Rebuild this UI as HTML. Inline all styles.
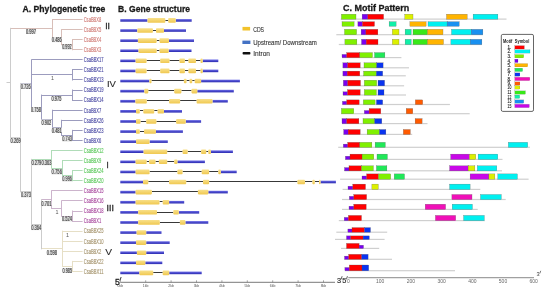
<!DOCTYPE html>
<html><head><meta charset="utf-8"><title>Phylogenetic tree, gene structure and motif pattern</title>
<style>html,body{margin:0;padding:0;background:#fff;} body{width:550px;height:293px;position:relative;overflow:hidden;}</style>
</head><body>
<svg width="550" height="293" viewBox="0 0 550 293" style="position:absolute;left:0;top:0">
<g><rect x="0" y="0" width="550" height="293" fill="#fff"/>
<g font-family="'Liberation Sans', Arial, sans-serif" font-weight="bold" fill="#1a1a1a" stroke="#1a1a1a" stroke-width="0.3">
<text x="22.6" y="11.8" font-size="8.9" textLength="82.8" lengthAdjust="spacingAndGlyphs">A. Phylogenetic tree</text>
<text x="118" y="12" font-size="9.8" textLength="72" lengthAdjust="spacingAndGlyphs">B. Gene structure</text>
<text x="343.1" y="10.6" font-size="9.2" textLength="66.2" lengthAdjust="spacingAndGlyphs">C. Motif Pattern</text>
</g>
<g stroke-width="1" shape-rendering="auto" stroke-linecap="square">
<line x1="72.50" y1="39.50" x2="82.10" y2="39.50" stroke="#d8beb8"/>
<line x1="72.50" y1="49.50" x2="82.10" y2="49.50" stroke="#d8beb8"/>
<line x1="72.50" y1="39.66" x2="72.50" y2="49.74" stroke="#d8beb8"/>
<line x1="62.00" y1="29.50" x2="82.10" y2="29.50" stroke="#d8beb8"/>
<line x1="62.00" y1="44.50" x2="71.50" y2="44.50" stroke="#d8beb8"/>
<line x1="61.50" y1="29.58" x2="61.50" y2="44.70" stroke="#d8beb8"/>
<line x1="52.50" y1="19.50" x2="82.10" y2="19.50" stroke="#d8beb8"/>
<line x1="52.50" y1="37.50" x2="61.00" y2="37.50" stroke="#d8beb8"/>
<line x1="52.50" y1="19.50" x2="52.50" y2="37.14" stroke="#d8beb8"/>
<line x1="72.50" y1="69.50" x2="82.10" y2="69.50" stroke="#9c9cbe"/>
<line x1="72.50" y1="79.50" x2="82.10" y2="79.50" stroke="#9c9cbe"/>
<line x1="72.50" y1="69.90" x2="72.50" y2="79.98" stroke="#9c9cbe"/>
<line x1="72.50" y1="90.50" x2="82.10" y2="90.50" stroke="#9c9cbe"/>
<line x1="72.50" y1="100.50" x2="82.10" y2="100.50" stroke="#9c9cbe"/>
<line x1="72.50" y1="90.06" x2="72.50" y2="100.14" stroke="#9c9cbe"/>
<line x1="72.50" y1="130.50" x2="82.10" y2="130.50" stroke="#9c9cbe"/>
<line x1="72.50" y1="140.50" x2="82.10" y2="140.50" stroke="#9c9cbe"/>
<line x1="72.50" y1="130.38" x2="72.50" y2="140.46" stroke="#9c9cbe"/>
<line x1="62.20" y1="120.50" x2="82.10" y2="120.50" stroke="#9c9cbe"/>
<line x1="62.20" y1="135.50" x2="71.50" y2="135.50" stroke="#9c9cbe"/>
<line x1="61.50" y1="120.30" x2="61.50" y2="135.42" stroke="#9c9cbe"/>
<line x1="52.50" y1="110.50" x2="82.10" y2="110.50" stroke="#9c9cbe"/>
<line x1="52.50" y1="127.50" x2="61.20" y2="127.50" stroke="#9c9cbe"/>
<line x1="52.50" y1="110.22" x2="52.50" y2="127.86" stroke="#9c9cbe"/>
<line x1="42.00" y1="95.50" x2="71.50" y2="95.50" stroke="#9c9cbe"/>
<line x1="42.00" y1="119.50" x2="51.50" y2="119.50" stroke="#9c9cbe"/>
<line x1="41.50" y1="95.10" x2="41.50" y2="119.04" stroke="#9c9cbe"/>
<line x1="32.00" y1="59.50" x2="82.10" y2="59.50" stroke="#9c9cbe"/>
<line x1="32.00" y1="74.50" x2="71.50" y2="74.50" stroke="#9c9cbe"/>
<line x1="32.00" y1="107.50" x2="41.00" y2="107.50" stroke="#9c9cbe"/>
<line x1="31.50" y1="59.82" x2="31.50" y2="107.07" stroke="#9c9cbe"/>
<line x1="72.50" y1="170.50" x2="82.10" y2="170.50" stroke="#b0dcb8"/>
<line x1="72.50" y1="180.50" x2="82.10" y2="180.50" stroke="#b0dcb8"/>
<line x1="72.50" y1="170.70" x2="72.50" y2="180.78" stroke="#b0dcb8"/>
<line x1="62.50" y1="160.50" x2="82.10" y2="160.50" stroke="#b0dcb8"/>
<line x1="62.50" y1="175.50" x2="71.50" y2="175.50" stroke="#b0dcb8"/>
<line x1="62.50" y1="160.62" x2="62.50" y2="175.74" stroke="#b0dcb8"/>
<line x1="52.10" y1="150.50" x2="82.10" y2="150.50" stroke="#b0dcb8"/>
<line x1="52.10" y1="168.50" x2="61.50" y2="168.50" stroke="#b0dcb8"/>
<line x1="51.50" y1="150.54" x2="51.50" y2="168.18" stroke="#b0dcb8"/>
<line x1="72.50" y1="211.50" x2="82.10" y2="211.50" stroke="#ccb4cc"/>
<line x1="72.50" y1="221.50" x2="82.10" y2="221.50" stroke="#ccb4cc"/>
<line x1="72.50" y1="211.02" x2="72.50" y2="221.10" stroke="#ccb4cc"/>
<line x1="62.00" y1="200.50" x2="82.10" y2="200.50" stroke="#ccb4cc"/>
<line x1="62.00" y1="216.50" x2="71.50" y2="216.50" stroke="#ccb4cc"/>
<line x1="61.50" y1="200.94" x2="61.50" y2="216.06" stroke="#ccb4cc"/>
<line x1="51.90" y1="190.50" x2="82.10" y2="190.50" stroke="#ccb4cc"/>
<line x1="51.90" y1="208.50" x2="61.00" y2="208.50" stroke="#ccb4cc"/>
<line x1="51.50" y1="190.86" x2="51.50" y2="208.50" stroke="#ccb4cc"/>
<line x1="72.50" y1="261.50" x2="82.10" y2="261.50" stroke="#e6dfc6"/>
<line x1="72.50" y1="271.50" x2="82.10" y2="271.50" stroke="#e6dfc6"/>
<line x1="72.50" y1="261.42" x2="72.50" y2="271.50" stroke="#e6dfc6"/>
<line x1="63.00" y1="231.50" x2="82.10" y2="231.50" stroke="#e6dfc6"/>
<line x1="63.00" y1="241.50" x2="82.10" y2="241.50" stroke="#e6dfc6"/>
<line x1="63.00" y1="251.50" x2="82.10" y2="251.50" stroke="#e6dfc6"/>
<line x1="63.00" y1="266.50" x2="71.50" y2="266.50" stroke="#e6dfc6"/>
<line x1="62.50" y1="231.18" x2="62.50" y2="266.46" stroke="#e6dfc6"/>
<line x1="41.80" y1="199.50" x2="50.90" y2="199.50" stroke="#ccb4cc"/>
<line x1="41.80" y1="248.50" x2="62.00" y2="248.50" stroke="#e6dfc6"/>
<line x1="41.50" y1="199.68" x2="41.50" y2="248.82" stroke="#cccccc"/>
<line x1="31.80" y1="159.50" x2="51.10" y2="159.50" stroke="#b0dcb8"/>
<line x1="31.80" y1="224.50" x2="40.80" y2="224.50" stroke="#cccccc"/>
<line x1="31.50" y1="159.36" x2="31.50" y2="224.25" stroke="#cccccc"/>
<line x1="20.70" y1="83.50" x2="31.00" y2="83.50" stroke="#9c9cbe"/>
<line x1="20.70" y1="191.50" x2="30.80" y2="191.50" stroke="#cccccc"/>
<line x1="20.50" y1="83.44" x2="20.50" y2="191.81" stroke="#cccccc"/>
<line x1="11.00" y1="28.50" x2="51.50" y2="28.50" stroke="#d8beb8"/>
<line x1="11.00" y1="137.50" x2="19.70" y2="137.50" stroke="#cccccc"/>
<line x1="10.50" y1="28.32" x2="10.50" y2="137.62" stroke="#cccccc"/>
<line x1="7.00" y1="82.50" x2="10.00" y2="82.50" stroke="#cccccc"/>
</g>
<g font-family="'Liberation Sans', Arial, sans-serif" font-size="7.3">
<text x="83.7" y="21.80" fill="#d07a74" stroke="#d07a74" stroke-width="0.22" stroke-opacity="0.6" textLength="17.6" lengthAdjust="spacingAndGlyphs">CsaBBX8</text>
<text x="83.7" y="31.88" fill="#d07a74" stroke="#d07a74" stroke-width="0.22" stroke-opacity="0.6" textLength="17.6" lengthAdjust="spacingAndGlyphs">CsaBBX5</text>
<text x="83.7" y="41.96" fill="#d07a74" stroke="#d07a74" stroke-width="0.22" stroke-opacity="0.6" textLength="17.6" lengthAdjust="spacingAndGlyphs">CsaBBX4</text>
<text x="83.7" y="52.04" fill="#d07a74" stroke="#d07a74" stroke-width="0.22" stroke-opacity="0.6" textLength="17.6" lengthAdjust="spacingAndGlyphs">CsaBBX3</text>
<text x="83.7" y="62.12" fill="#4a4aa4" stroke="#4a4aa4" stroke-width="0.22" stroke-opacity="0.6" textLength="19.9" lengthAdjust="spacingAndGlyphs">CsaBBX17</text>
<text x="83.7" y="72.20" fill="#4a4aa4" stroke="#4a4aa4" stroke-width="0.22" stroke-opacity="0.6" textLength="19.9" lengthAdjust="spacingAndGlyphs">CsaBBX21</text>
<text x="83.7" y="82.28" fill="#4a4aa4" stroke="#4a4aa4" stroke-width="0.22" stroke-opacity="0.6" textLength="19.9" lengthAdjust="spacingAndGlyphs">CsaBBX13</text>
<text x="83.7" y="92.36" fill="#4a4aa4" stroke="#4a4aa4" stroke-width="0.22" stroke-opacity="0.6" textLength="19.9" lengthAdjust="spacingAndGlyphs">CsaBBX19</text>
<text x="83.7" y="102.44" fill="#4a4aa4" stroke="#4a4aa4" stroke-width="0.22" stroke-opacity="0.6" textLength="19.9" lengthAdjust="spacingAndGlyphs">CsaBBX14</text>
<text x="83.7" y="112.52" fill="#4a4aa4" stroke="#4a4aa4" stroke-width="0.22" stroke-opacity="0.6" textLength="17.6" lengthAdjust="spacingAndGlyphs">CsaBBX7</text>
<text x="83.7" y="122.60" fill="#4a4aa4" stroke="#4a4aa4" stroke-width="0.22" stroke-opacity="0.6" textLength="19.9" lengthAdjust="spacingAndGlyphs">CsaBBX26</text>
<text x="83.7" y="132.68" fill="#4a4aa4" stroke="#4a4aa4" stroke-width="0.22" stroke-opacity="0.6" textLength="19.9" lengthAdjust="spacingAndGlyphs">CsaBBX23</text>
<text x="83.7" y="142.76" fill="#4a4aa4" stroke="#4a4aa4" stroke-width="0.22" stroke-opacity="0.6" textLength="17.6" lengthAdjust="spacingAndGlyphs">CsaBBX6</text>
<text x="83.7" y="152.84" fill="#58c858" stroke="#58c858" stroke-width="0.22" stroke-opacity="0.6" textLength="19.9" lengthAdjust="spacingAndGlyphs">CsaBBX12</text>
<text x="83.7" y="162.92" fill="#58c858" stroke="#58c858" stroke-width="0.22" stroke-opacity="0.6" textLength="17.6" lengthAdjust="spacingAndGlyphs">CsaBBX9</text>
<text x="83.7" y="173.00" fill="#58c858" stroke="#58c858" stroke-width="0.22" stroke-opacity="0.6" textLength="19.9" lengthAdjust="spacingAndGlyphs">CsaBBX24</text>
<text x="83.7" y="183.08" fill="#58c858" stroke="#58c858" stroke-width="0.22" stroke-opacity="0.6" textLength="19.9" lengthAdjust="spacingAndGlyphs">CsaBBX20</text>
<text x="83.7" y="193.16" fill="#a8489e" stroke="#a8489e" stroke-width="0.22" stroke-opacity="0.6" textLength="19.9" lengthAdjust="spacingAndGlyphs">CsaBBX15</text>
<text x="83.7" y="203.24" fill="#a8489e" stroke="#a8489e" stroke-width="0.22" stroke-opacity="0.6" textLength="19.9" lengthAdjust="spacingAndGlyphs">CsaBBX16</text>
<text x="83.7" y="213.32" fill="#a8489e" stroke="#a8489e" stroke-width="0.22" stroke-opacity="0.6" textLength="19.9" lengthAdjust="spacingAndGlyphs">CsaBBX18</text>
<text x="83.7" y="223.40" fill="#a8489e" stroke="#a8489e" stroke-width="0.22" stroke-opacity="0.6" textLength="17.6" lengthAdjust="spacingAndGlyphs">CsaBBX1</text>
<text x="83.7" y="233.48" fill="#a4926a" stroke="#a4926a" stroke-width="0.22" stroke-opacity="0.6" textLength="19.9" lengthAdjust="spacingAndGlyphs">CsaBBX25</text>
<text x="83.7" y="243.56" fill="#a4926a" stroke="#a4926a" stroke-width="0.22" stroke-opacity="0.6" textLength="19.9" lengthAdjust="spacingAndGlyphs">CsaBBX10</text>
<text x="83.7" y="253.64" fill="#a4926a" stroke="#a4926a" stroke-width="0.22" stroke-opacity="0.6" textLength="17.6" lengthAdjust="spacingAndGlyphs">CsaBBX2</text>
<text x="83.7" y="263.72" fill="#a4926a" stroke="#a4926a" stroke-width="0.22" stroke-opacity="0.6" textLength="19.9" lengthAdjust="spacingAndGlyphs">CsaBBX22</text>
<text x="83.7" y="273.80" fill="#a4926a" stroke="#a4926a" stroke-width="0.22" stroke-opacity="0.6" textLength="19.9" lengthAdjust="spacingAndGlyphs">CsaBBX11</text>
</g>
<g fill="#e2e2e2">
<rect x="26.00" y="29.20" width="10.10" height="4.80"/>
<rect x="51.80" y="37.00" width="10.00" height="5.20"/>
<rect x="62.30" y="44.30" width="9.20" height="5.40"/>
<rect x="20.70" y="83.40" width="10.00" height="5.50"/>
<rect x="51.60" y="95.90" width="9.80" height="5.00"/>
<rect x="31.10" y="107.00" width="9.80" height="5.10"/>
<rect x="41.50" y="119.50" width="9.80" height="5.30"/>
<rect x="51.80" y="127.70" width="10.00" height="5.20"/>
<rect x="62.30" y="136.60" width="9.70" height="5.00"/>
<rect x="10.60" y="137.60" width="10.20" height="5.50"/>
<rect x="31.40" y="160.00" width="9.90" height="5.30"/>
<rect x="41.50" y="160.00" width="10.10" height="5.30"/>
<rect x="51.60" y="169.30" width="10.40" height="5.20"/>
<rect x="62.30" y="176.60" width="9.70" height="5.00"/>
<rect x="21.00" y="192.50" width="10.00" height="5.00"/>
<rect x="41.30" y="201.10" width="10.10" height="5.00"/>
<rect x="62.00" y="216.70" width="10.00" height="4.80"/>
<rect x="31.20" y="225.00" width="10.10" height="5.10"/>
<rect x="46.80" y="250.30" width="10.10" height="4.80"/>
<rect x="62.50" y="268.00" width="9.50" height="4.90"/>
</g>
<g font-family="'Liberation Sans', Arial, sans-serif" font-size="6.4" fill="#333" stroke="#555" stroke-width="0.15">
<text x="26.00" y="33.70" textLength="10.10" lengthAdjust="spacingAndGlyphs">0.997</text>
<text x="51.80" y="41.90" textLength="10.00" lengthAdjust="spacingAndGlyphs">0.486</text>
<text x="62.30" y="49.40" textLength="9.20" lengthAdjust="spacingAndGlyphs">0.992</text>
<text x="50.90" y="79.90" font-size="5.4" fill="#555" stroke="none">1</text>
<text x="20.70" y="88.60" textLength="10.00" lengthAdjust="spacingAndGlyphs">0.726</text>
<text x="51.60" y="100.60" textLength="9.80" lengthAdjust="spacingAndGlyphs">0.975</text>
<text x="31.10" y="111.80" textLength="9.80" lengthAdjust="spacingAndGlyphs">0.758</text>
<text x="41.50" y="124.50" textLength="9.80" lengthAdjust="spacingAndGlyphs">0.902</text>
<text x="51.80" y="132.60" textLength="10.00" lengthAdjust="spacingAndGlyphs">0.481</text>
<text x="62.30" y="141.30" textLength="9.70" lengthAdjust="spacingAndGlyphs">0.743</text>
<text x="10.60" y="142.80" textLength="10.20" lengthAdjust="spacingAndGlyphs">0.269</text>
<text x="31.40" y="165.00" textLength="9.90" lengthAdjust="spacingAndGlyphs">0.279</text>
<text x="41.50" y="165.00" textLength="10.10" lengthAdjust="spacingAndGlyphs">0.363</text>
<text x="51.60" y="174.20" textLength="10.40" lengthAdjust="spacingAndGlyphs">0.756</text>
<text x="62.30" y="181.30" textLength="9.70" lengthAdjust="spacingAndGlyphs">0.996</text>
<text x="21.00" y="197.20" textLength="10.00" lengthAdjust="spacingAndGlyphs">0.373</text>
<text x="41.30" y="205.80" textLength="10.10" lengthAdjust="spacingAndGlyphs">0.701</text>
<text x="55.50" y="214.00" font-size="5.4" fill="#555" stroke="none">1</text>
<text x="62.00" y="221.20" textLength="10.00" lengthAdjust="spacingAndGlyphs">0.524</text>
<text x="31.20" y="229.80" textLength="10.10" lengthAdjust="spacingAndGlyphs">0.364</text>
<text x="65.90" y="236.80" font-size="5.4" fill="#555" stroke="none">1</text>
<text x="46.80" y="254.80" textLength="10.10" lengthAdjust="spacingAndGlyphs">0.598</text>
<text x="62.50" y="272.60" textLength="9.50" lengthAdjust="spacingAndGlyphs">0.985</text>
</g>
<g font-family="'Liberation Sans', Arial, sans-serif" font-size="9.4" fill="#2a2a2a" stroke="#2a2a2a" stroke-width="0.35">
<text x="105.2" y="28.9" textLength="4.8" lengthAdjust="spacingAndGlyphs">II</text>
<text x="106.9" y="86.8" textLength="9" lengthAdjust="spacingAndGlyphs" stroke-width="0.12">IV</text>
<text x="106.6" y="168" textLength="2.2" lengthAdjust="spacingAndGlyphs">I</text>
<text x="106.6" y="211.4" textLength="7.3" lengthAdjust="spacingAndGlyphs">III</text>
<text x="105.2" y="255" textLength="6.8" lengthAdjust="spacingAndGlyphs" stroke-width="0.1">V</text>
</g>
<defs><linearGradient id="gb" x1="0" y1="0" x2="0" y2="1"><stop offset="0" stop-color="#6a6ae6"/><stop offset="1" stop-color="#2a2ab0"/></linearGradient><linearGradient id="gy" x1="0" y1="0" x2="0" y2="1"><stop offset="0" stop-color="#f8e08a"/><stop offset="1" stop-color="#f0c850"/></linearGradient></defs>
<g>
<rect x="165.30" y="20" width="2.90" height="1" fill="#383838"/>
<rect x="152.90" y="30" width="3.10" height="1" fill="#383838"/>
<rect x="156.70" y="40" width="2.80" height="1" fill="#383838"/>
<rect x="156.70" y="50" width="2.80" height="1" fill="#383838"/>
<rect x="146.60" y="60" width="13.60" height="1" fill="#383838"/>
<rect x="169.50" y="60" width="10.00" height="1" fill="#383838"/>
<rect x="184.90" y="60" width="3.50" height="1" fill="#383838"/>
<rect x="196.00" y="60" width="4.50" height="1" fill="#383838"/>
<rect x="146.60" y="70" width="13.60" height="1" fill="#383838"/>
<rect x="169.50" y="70" width="10.00" height="1" fill="#383838"/>
<rect x="184.90" y="70" width="3.50" height="1" fill="#383838"/>
<rect x="196.00" y="70" width="4.50" height="1" fill="#383838"/>
<rect x="151.50" y="80" width="32.40" height="1" fill="#383838"/>
<rect x="186.50" y="80" width="3.10" height="1" fill="#383838"/>
<rect x="192.20" y="80" width="2.50" height="1" fill="#383838"/>
<rect x="148.30" y="90" width="25.90" height="1" fill="#383838"/>
<rect x="181.40" y="90" width="10.10" height="1" fill="#383838"/>
<rect x="146.80" y="100" width="22.30" height="1" fill="#383838"/>
<rect x="180.10" y="100" width="16.50" height="1" fill="#383838"/>
<rect x="139.80" y="110" width="3.50" height="1" fill="#383838"/>
<rect x="154.20" y="110" width="3.40" height="1" fill="#383838"/>
<rect x="140.50" y="121" width="5.70" height="1" fill="#383838"/>
<rect x="156.40" y="121" width="19.70" height="1" fill="#383838"/>
<rect x="139.80" y="131" width="4.20" height="1" fill="#383838"/>
<rect x="167.20" y="151" width="15.40" height="1" fill="#383838"/>
<rect x="187.70" y="151" width="13.40" height="1" fill="#383838"/>
<rect x="206.20" y="151" width="2.10" height="1" fill="#383838"/>
<rect x="146.60" y="161" width="2.50" height="1" fill="#383838"/>
<rect x="155.50" y="161" width="3.40" height="1" fill="#383838"/>
<rect x="167.20" y="161" width="7.00" height="1" fill="#383838"/>
<rect x="149.60" y="171" width="27.80" height="1" fill="#383838"/>
<rect x="182.60" y="171" width="19.10" height="1" fill="#383838"/>
<rect x="209.10" y="171" width="9.20" height="1" fill="#383838"/>
<rect x="148.30" y="181" width="20.80" height="1" fill="#383838"/>
<rect x="186.20" y="181" width="16.80" height="1" fill="#383838"/>
<rect x="209.10" y="181" width="88.30" height="1" fill="#383838"/>
<rect x="305.00" y="181" width="7.40" height="1" fill="#383838"/>
<rect x="314.80" y="181" width="4.20" height="1" fill="#383838"/>
<rect x="151.90" y="191" width="46.00" height="1" fill="#383838"/>
<rect x="159.50" y="201" width="3.20" height="1" fill="#383838"/>
<rect x="157.00" y="212" width="16.30" height="1" fill="#383838"/>
<rect x="159.80" y="222" width="20.10" height="1" fill="#383838"/>
<rect x="153.20" y="272" width="9.50" height="1" fill="#383838"/>
<rect x="120.30" y="19.10" width="27.20" height="2.6" fill="url(#gb)"/>
<rect x="175.80" y="19.10" width="15.90" height="2.6" fill="url(#gb)"/>
<rect x="120.30" y="29.20" width="17.00" height="2.6" fill="url(#gb)"/>
<rect x="164.00" y="29.20" width="22.00" height="2.6" fill="url(#gb)"/>
<rect x="120.30" y="39.30" width="17.60" height="2.6" fill="url(#gb)"/>
<rect x="169.00" y="39.30" width="25.00" height="2.6" fill="url(#gb)"/>
<rect x="120.30" y="49.40" width="18.20" height="2.6" fill="url(#gb)"/>
<rect x="168.70" y="49.40" width="22.80" height="2.6" fill="url(#gb)"/>
<rect x="120.30" y="59.50" width="15.30" height="2.6" fill="url(#gb)"/>
<rect x="202.70" y="59.50" width="15.60" height="2.6" fill="url(#gb)"/>
<rect x="120.30" y="69.60" width="15.30" height="2.6" fill="url(#gb)"/>
<rect x="202.70" y="69.60" width="15.60" height="2.6" fill="url(#gb)"/>
<rect x="120.30" y="79.70" width="29.10" height="2.6" fill="url(#gb)"/>
<rect x="201.10" y="79.70" width="38.80" height="2.6" fill="url(#gb)"/>
<rect x="120.30" y="89.80" width="24.00" height="2.6" fill="url(#gb)"/>
<rect x="197.30" y="89.80" width="36.50" height="2.6" fill="url(#gb)"/>
<rect x="120.30" y="99.90" width="15.10" height="2.6" fill="url(#gb)"/>
<rect x="212.50" y="99.90" width="15.30" height="2.6" fill="url(#gb)"/>
<rect x="120.30" y="110.00" width="15.70" height="2.6" fill="url(#gb)"/>
<rect x="164.00" y="110.00" width="18.00" height="2.6" fill="url(#gb)"/>
<rect x="120.30" y="120.10" width="15.70" height="2.6" fill="url(#gb)"/>
<rect x="185.80" y="120.10" width="15.30" height="2.6" fill="url(#gb)"/>
<rect x="120.30" y="130.20" width="15.70" height="2.6" fill="url(#gb)"/>
<rect x="156.00" y="130.20" width="26.90" height="2.6" fill="url(#gb)"/>
<rect x="120.30" y="140.30" width="15.70" height="2.6" fill="url(#gb)"/>
<rect x="149.60" y="140.30" width="18.20" height="2.6" fill="url(#gb)"/>
<rect x="120.30" y="150.40" width="23.30" height="2.6" fill="url(#gb)"/>
<rect x="210.90" y="150.40" width="22.00" height="2.6" fill="url(#gb)"/>
<rect x="120.30" y="160.50" width="15.30" height="2.6" fill="url(#gb)"/>
<rect x="177.40" y="160.50" width="27.50" height="2.6" fill="url(#gb)"/>
<rect x="120.30" y="170.60" width="15.30" height="2.6" fill="url(#gb)"/>
<rect x="220.80" y="170.60" width="15.90" height="2.6" fill="url(#gb)"/>
<rect x="120.30" y="180.70" width="22.70" height="2.6" fill="url(#gb)"/>
<rect x="320.50" y="180.70" width="15.40" height="2.6" fill="url(#gb)"/>
<rect x="120.30" y="190.80" width="15.30" height="2.6" fill="url(#gb)"/>
<rect x="208.30" y="190.80" width="19.50" height="2.6" fill="url(#gb)"/>
<rect x="120.30" y="200.90" width="15.30" height="2.6" fill="url(#gb)"/>
<rect x="169.10" y="200.90" width="15.10" height="2.6" fill="url(#gb)"/>
<rect x="120.30" y="211.00" width="17.90" height="2.6" fill="url(#gb)"/>
<rect x="178.80" y="211.00" width="20.40" height="2.6" fill="url(#gb)"/>
<rect x="120.30" y="221.10" width="17.90" height="2.6" fill="url(#gb)"/>
<rect x="185.40" y="221.10" width="22.90" height="2.6" fill="url(#gb)"/>
<rect x="120.30" y="231.20" width="16.30" height="2.6" fill="url(#gb)"/>
<rect x="146.20" y="231.20" width="15.30" height="2.6" fill="url(#gb)"/>
<rect x="120.30" y="241.30" width="15.70" height="2.6" fill="url(#gb)"/>
<rect x="146.20" y="241.30" width="23.50" height="2.6" fill="url(#gb)"/>
<rect x="120.30" y="251.40" width="16.60" height="2.6" fill="url(#gb)"/>
<rect x="146.20" y="251.40" width="17.80" height="2.6" fill="url(#gb)"/>
<rect x="120.30" y="261.50" width="15.70" height="2.6" fill="url(#gb)"/>
<rect x="145.30" y="261.50" width="17.00" height="2.6" fill="url(#gb)"/>
<rect x="120.30" y="271.60" width="19.10" height="2.6" fill="url(#gb)"/>
<rect x="169.20" y="271.60" width="32.50" height="2.6" fill="url(#gb)"/>
<rect x="147.50" y="18.10" width="17.80" height="4.6" rx="0.8" fill="url(#gy)"/>
<rect x="168.20" y="18.10" width="7.60" height="4.6" rx="0.8" fill="url(#gy)"/>
<rect x="137.30" y="28.20" width="15.60" height="4.6" rx="0.8" fill="url(#gy)"/>
<rect x="156.00" y="28.20" width="8.00" height="4.6" rx="0.8" fill="url(#gy)"/>
<rect x="137.90" y="38.30" width="18.80" height="4.6" rx="0.8" fill="url(#gy)"/>
<rect x="159.50" y="38.30" width="9.50" height="4.6" rx="0.8" fill="url(#gy)"/>
<rect x="138.50" y="48.40" width="18.20" height="4.6" rx="0.8" fill="url(#gy)"/>
<rect x="159.50" y="48.40" width="9.20" height="4.6" rx="0.8" fill="url(#gy)"/>
<rect x="135.60" y="58.50" width="11.00" height="4.6" rx="0.8" fill="url(#gy)"/>
<rect x="160.20" y="58.50" width="9.30" height="4.6" rx="0.8" fill="url(#gy)"/>
<rect x="179.50" y="58.50" width="5.40" height="4.6" rx="0.8" fill="url(#gy)"/>
<rect x="188.40" y="58.50" width="7.60" height="4.6" rx="0.8" fill="url(#gy)"/>
<rect x="200.50" y="58.50" width="2.20" height="4.6" rx="0.8" fill="url(#gy)"/>
<rect x="135.60" y="68.60" width="11.00" height="4.6" rx="0.8" fill="url(#gy)"/>
<rect x="160.20" y="68.60" width="9.30" height="4.6" rx="0.8" fill="url(#gy)"/>
<rect x="179.50" y="68.60" width="5.40" height="4.6" rx="0.8" fill="url(#gy)"/>
<rect x="188.40" y="68.60" width="7.60" height="4.6" rx="0.8" fill="url(#gy)"/>
<rect x="200.50" y="68.60" width="2.20" height="4.6" rx="0.8" fill="url(#gy)"/>
<rect x="149.40" y="78.70" width="2.10" height="4.6" rx="0.8" fill="url(#gy)"/>
<rect x="183.90" y="78.70" width="2.60" height="4.6" rx="0.8" fill="url(#gy)"/>
<rect x="189.60" y="78.70" width="2.60" height="4.6" rx="0.8" fill="url(#gy)"/>
<rect x="194.70" y="78.70" width="6.40" height="4.6" rx="0.8" fill="url(#gy)"/>
<rect x="144.30" y="88.80" width="4.00" height="4.6" rx="0.8" fill="url(#gy)"/>
<rect x="174.20" y="88.80" width="7.20" height="4.6" rx="0.8" fill="url(#gy)"/>
<rect x="191.50" y="88.80" width="5.80" height="4.6" rx="0.8" fill="url(#gy)"/>
<rect x="135.40" y="98.90" width="11.40" height="4.6" rx="0.8" fill="url(#gy)"/>
<rect x="169.10" y="98.90" width="11.00" height="4.6" rx="0.8" fill="url(#gy)"/>
<rect x="196.60" y="98.90" width="15.90" height="4.6" rx="0.8" fill="url(#gy)"/>
<rect x="136.00" y="109.00" width="3.80" height="4.6" rx="0.8" fill="url(#gy)"/>
<rect x="143.30" y="109.00" width="10.90" height="4.6" rx="0.8" fill="url(#gy)"/>
<rect x="157.60" y="109.00" width="6.40" height="4.6" rx="0.8" fill="url(#gy)"/>
<rect x="136.00" y="119.10" width="4.50" height="4.6" rx="0.8" fill="url(#gy)"/>
<rect x="146.20" y="119.10" width="10.20" height="4.6" rx="0.8" fill="url(#gy)"/>
<rect x="176.10" y="119.10" width="9.70" height="4.6" rx="0.8" fill="url(#gy)"/>
<rect x="136.00" y="129.20" width="3.80" height="4.6" rx="0.8" fill="url(#gy)"/>
<rect x="144.00" y="129.20" width="12.00" height="4.6" rx="0.8" fill="url(#gy)"/>
<rect x="136.00" y="139.30" width="13.60" height="4.6" rx="0.8" fill="url(#gy)"/>
<rect x="143.60" y="149.40" width="23.60" height="4.6" rx="0.8" fill="url(#gy)"/>
<rect x="182.60" y="149.40" width="5.10" height="4.6" rx="0.8" fill="url(#gy)"/>
<rect x="201.10" y="149.40" width="5.10" height="4.6" rx="0.8" fill="url(#gy)"/>
<rect x="208.30" y="149.40" width="2.60" height="4.6" rx="0.8" fill="url(#gy)"/>
<rect x="135.60" y="159.50" width="11.00" height="4.6" rx="0.8" fill="url(#gy)"/>
<rect x="149.10" y="159.50" width="6.40" height="4.6" rx="0.8" fill="url(#gy)"/>
<rect x="158.90" y="159.50" width="8.30" height="4.6" rx="0.8" fill="url(#gy)"/>
<rect x="174.20" y="159.50" width="3.20" height="4.6" rx="0.8" fill="url(#gy)"/>
<rect x="135.60" y="169.60" width="14.00" height="4.6" rx="0.8" fill="url(#gy)"/>
<rect x="177.40" y="169.60" width="5.20" height="4.6" rx="0.8" fill="url(#gy)"/>
<rect x="201.70" y="169.60" width="7.40" height="4.6" rx="0.8" fill="url(#gy)"/>
<rect x="218.30" y="169.60" width="2.50" height="4.6" rx="0.8" fill="url(#gy)"/>
<rect x="143.00" y="179.70" width="5.30" height="4.6" rx="0.8" fill="url(#gy)"/>
<rect x="169.10" y="179.70" width="17.10" height="4.6" rx="0.8" fill="url(#gy)"/>
<rect x="203.00" y="179.70" width="6.10" height="4.6" rx="0.8" fill="url(#gy)"/>
<rect x="297.40" y="179.70" width="7.60" height="4.6" rx="0.8" fill="url(#gy)"/>
<rect x="312.40" y="179.70" width="2.40" height="4.6" rx="0.8" fill="url(#gy)"/>
<rect x="319.00" y="179.70" width="1.50" height="4.6" rx="0.8" fill="url(#gy)"/>
<rect x="135.60" y="189.80" width="16.30" height="4.6" rx="0.8" fill="url(#gy)"/>
<rect x="197.90" y="189.80" width="10.40" height="4.6" rx="0.8" fill="url(#gy)"/>
<rect x="135.60" y="199.90" width="23.90" height="4.6" rx="0.8" fill="url(#gy)"/>
<rect x="162.70" y="199.90" width="6.40" height="4.6" rx="0.8" fill="url(#gy)"/>
<rect x="138.20" y="210.00" width="18.80" height="4.6" rx="0.8" fill="url(#gy)"/>
<rect x="173.30" y="210.00" width="5.50" height="4.6" rx="0.8" fill="url(#gy)"/>
<rect x="138.20" y="220.10" width="21.60" height="4.6" rx="0.8" fill="url(#gy)"/>
<rect x="179.90" y="220.10" width="5.50" height="4.6" rx="0.8" fill="url(#gy)"/>
<rect x="136.60" y="230.20" width="9.60" height="4.6" rx="0.8" fill="url(#gy)"/>
<rect x="136.00" y="240.30" width="10.20" height="4.6" rx="0.8" fill="url(#gy)"/>
<rect x="136.90" y="250.40" width="9.30" height="4.6" rx="0.8" fill="url(#gy)"/>
<rect x="136.00" y="260.50" width="9.30" height="4.6" rx="0.8" fill="url(#gy)"/>
<rect x="139.40" y="270.60" width="13.80" height="4.6" rx="0.8" fill="url(#gy)"/>
<rect x="162.70" y="270.60" width="6.50" height="4.6" rx="0.8" fill="url(#gy)"/>
</g>
<rect x="242.5" y="26.9" width="7.6" height="3.6" fill="#f2c22a"/>
<rect x="242.4" y="40.6" width="8" height="3.4" fill="#4472c4"/>
<rect x="242.6" y="51.9" width="7.8" height="2.7" rx="0.8" fill="#111"/>
<g font-family="'Liberation Sans', Arial, sans-serif" font-size="7.9" fill="#333" stroke="#333" stroke-width="0.12">
<text x="253.2" y="31.9" textLength="10.8" lengthAdjust="spacingAndGlyphs">CDS</text>
<text x="253.2" y="44.8" textLength="63.6" lengthAdjust="spacingAndGlyphs">Upstream/ Downstream</text>
<text x="253.2" y="55.5" textLength="16.8" lengthAdjust="spacingAndGlyphs">Intron</text>
</g>
<line x1="120.3" y1="282.3" x2="335" y2="282.3" stroke="#6a6a6a" stroke-width="0.9"/>
<g font-family="'Liberation Sans', Arial, sans-serif" font-size="3.5" fill="#555" text-anchor="middle">
<line x1="120.30" y1="280.3" x2="120.30" y2="282.3" stroke="#6a6a6a" stroke-width="0.6"/>
<text x="120.30" y="287.2">0kb</text>
<line x1="145.70" y1="280.3" x2="145.70" y2="282.3" stroke="#6a6a6a" stroke-width="0.6"/>
<text x="145.70" y="287.2">1kb</text>
<line x1="171.10" y1="280.3" x2="171.10" y2="282.3" stroke="#6a6a6a" stroke-width="0.6"/>
<text x="171.10" y="287.2">2kb</text>
<line x1="196.50" y1="280.3" x2="196.50" y2="282.3" stroke="#6a6a6a" stroke-width="0.6"/>
<text x="196.50" y="287.2">3kb</text>
<line x1="221.90" y1="280.3" x2="221.90" y2="282.3" stroke="#6a6a6a" stroke-width="0.6"/>
<text x="221.90" y="287.2">4kb</text>
<line x1="247.30" y1="280.3" x2="247.30" y2="282.3" stroke="#6a6a6a" stroke-width="0.6"/>
<text x="247.30" y="287.2">5kb</text>
<line x1="272.70" y1="280.3" x2="272.70" y2="282.3" stroke="#6a6a6a" stroke-width="0.6"/>
<text x="272.70" y="287.2">6kb</text>
<line x1="298.10" y1="280.3" x2="298.10" y2="282.3" stroke="#6a6a6a" stroke-width="0.6"/>
<text x="298.10" y="287.2">7kb</text>
<line x1="323.50" y1="280.3" x2="323.50" y2="282.3" stroke="#6a6a6a" stroke-width="0.6"/>
<text x="323.50" y="287.2">8kb</text>
</g>
<text x="114.9" y="284.7" font-family="'Liberation Sans', Arial, sans-serif" font-size="8.6" fill="#222" stroke="#222" stroke-width="0.3">5</text><line x1="121" y1="277.4" x2="120" y2="280.4" stroke="#222" stroke-width="0.9" stroke-linecap="round"/>
<text x="336.9" y="282.7" font-family="'Liberation Sans', Arial, sans-serif" font-size="7.4" fill="#333" stroke="#333" stroke-width="0.2">3</text><line x1="342" y1="276.6" x2="341.2" y2="279" stroke="#333" stroke-width="0.8" stroke-linecap="round"/>
<text x="342.3" y="282.7" font-family="'Liberation Sans', Arial, sans-serif" font-size="7.4" fill="#333" stroke="#333" stroke-width="0.2">5</text><line x1="347.3" y1="276.6" x2="346.5" y2="279" stroke="#333" stroke-width="0.8" stroke-linecap="round"/>
<g>
<rect x="340.70" y="18.50" width="165.80" height="1.2" fill="#cfcfcf"/>
<rect x="342.00" y="25.60" width="0.00" height="1.2" fill="#cfcfcf"/>
<rect x="336.30" y="34.10" width="146.70" height="1.2" fill="#cfcfcf"/>
<rect x="338.80" y="43.90" width="143.20" height="1.2" fill="#cfcfcf"/>
<rect x="342.00" y="57.00" width="59.40" height="1.2" fill="#cfcfcf"/>
<rect x="342.90" y="67.20" width="66.10" height="1.2" fill="#cfcfcf"/>
<rect x="342.90" y="75.20" width="62.90" height="1.2" fill="#cfcfcf"/>
<rect x="343.30" y="85.20" width="60.80" height="1.2" fill="#cfcfcf"/>
<rect x="343.00" y="94.40" width="63.00" height="1.2" fill="#cfcfcf"/>
<rect x="342.40" y="103.90" width="107.50" height="1.2" fill="#cfcfcf"/>
<rect x="341.00" y="113.10" width="128.70" height="1.2" fill="#cfcfcf"/>
<rect x="342.00" y="123.00" width="85.50" height="1.2" fill="#cfcfcf"/>
<rect x="343.70" y="133.80" width="68.50" height="1.2" fill="#cfcfcf"/>
<rect x="338.20" y="146.70" width="191.70" height="1.2" fill="#cfcfcf"/>
<rect x="345.00" y="158.80" width="157.50" height="1.2" fill="#cfcfcf"/>
<rect x="344.50" y="170.20" width="157.50" height="1.2" fill="#cfcfcf"/>
<rect x="340.10" y="178.60" width="188.50" height="1.2" fill="#cfcfcf"/>
<rect x="342.60" y="188.80" width="137.70" height="1.2" fill="#cfcfcf"/>
<rect x="342.00" y="198.90" width="163.70" height="1.2" fill="#cfcfcf"/>
<rect x="342.00" y="208.80" width="135.70" height="1.2" fill="#cfcfcf"/>
<rect x="338.80" y="220.00" width="146.20" height="1.2" fill="#cfcfcf"/>
<rect x="336.30" y="231.60" width="50.90" height="1.2" fill="#cfcfcf"/>
<rect x="335.00" y="238.80" width="49.60" height="1.2" fill="#cfcfcf"/>
<rect x="341.00" y="247.80" width="38.20" height="1.2" fill="#cfcfcf"/>
<rect x="344.50" y="258.70" width="47.50" height="1.2" fill="#cfcfcf"/>
<rect x="344.90" y="270.10" width="110.10" height="1.2" fill="#cfcfcf"/>
<rect x="341.40" y="14.20" width="14.60" height="5.00" fill="#80f000" stroke="#555" stroke-width="0.25"/>
<rect x="362.10" y="14.20" width="5.70" height="5.00" fill="#7a00f0" stroke="#555" stroke-width="0.25"/>
<rect x="367.80" y="14.20" width="15.80" height="5.00" fill="#ff0000" stroke="#555" stroke-width="0.25"/>
<rect x="404.80" y="14.20" width="8.20" height="5.00" fill="#dcf000" stroke="#555" stroke-width="0.25"/>
<rect x="446.50" y="14.20" width="20.70" height="5.00" fill="#ffb400" stroke="#555" stroke-width="0.25"/>
<rect x="473.10" y="14.20" width="24.80" height="5.00" fill="#00f0f0" stroke="#555" stroke-width="0.25"/>
<rect x="342.00" y="21.70" width="12.10" height="4.60" fill="#80f000" stroke="#555" stroke-width="0.25"/>
<rect x="357.90" y="21.70" width="4.50" height="4.60" fill="#7a00f0" stroke="#555" stroke-width="0.25"/>
<rect x="362.40" y="21.70" width="12.10" height="4.60" fill="#ff0000" stroke="#555" stroke-width="0.25"/>
<rect x="389.10" y="21.70" width="7.00" height="4.60" fill="#10f0a8" stroke="#555" stroke-width="0.25"/>
<rect x="409.90" y="21.70" width="16.20" height="4.60" fill="#ffb400" stroke="#555" stroke-width="0.25"/>
<rect x="428.00" y="21.70" width="19.10" height="4.60" fill="#00f0f0" stroke="#555" stroke-width="0.25"/>
<rect x="447.10" y="21.70" width="12.10" height="4.60" fill="#1890f0" stroke="#555" stroke-width="0.25"/>
<rect x="344.50" y="29.30" width="12.10" height="5.50" fill="#80f000" stroke="#555" stroke-width="0.25"/>
<rect x="361.10" y="29.30" width="4.80" height="5.50" fill="#7a00f0" stroke="#555" stroke-width="0.25"/>
<rect x="365.90" y="29.30" width="12.00" height="5.50" fill="#ff0000" stroke="#555" stroke-width="0.25"/>
<rect x="392.30" y="29.30" width="6.70" height="5.50" fill="#dcf000" stroke="#555" stroke-width="0.25"/>
<rect x="405.10" y="29.30" width="6.10" height="5.50" fill="#10f0a8" stroke="#555" stroke-width="0.25"/>
<rect x="413.00" y="29.30" width="14.40" height="5.50" fill="#38e818" stroke="#555" stroke-width="0.25"/>
<rect x="427.40" y="29.30" width="15.60" height="5.50" fill="#ffb400" stroke="#555" stroke-width="0.25"/>
<rect x="451.50" y="29.30" width="19.70" height="5.50" fill="#00f0f0" stroke="#555" stroke-width="0.25"/>
<rect x="471.20" y="29.30" width="11.70" height="5.50" fill="#1890f0" stroke="#555" stroke-width="0.25"/>
<rect x="344.90" y="39.30" width="12.00" height="5.30" fill="#80f000" stroke="#555" stroke-width="0.25"/>
<rect x="361.50" y="39.30" width="4.70" height="5.30" fill="#7a00f0" stroke="#555" stroke-width="0.25"/>
<rect x="366.20" y="39.30" width="11.80" height="5.30" fill="#ff0000" stroke="#555" stroke-width="0.25"/>
<rect x="392.30" y="39.30" width="6.70" height="5.30" fill="#dcf000" stroke="#555" stroke-width="0.25"/>
<rect x="405.10" y="39.30" width="6.10" height="5.30" fill="#10f0a8" stroke="#555" stroke-width="0.25"/>
<rect x="413.00" y="39.30" width="14.40" height="5.30" fill="#38e818" stroke="#555" stroke-width="0.25"/>
<rect x="427.40" y="39.30" width="16.10" height="5.30" fill="#ffb400" stroke="#555" stroke-width="0.25"/>
<rect x="450.90" y="39.30" width="19.30" height="5.30" fill="#00f0f0" stroke="#555" stroke-width="0.25"/>
<rect x="470.20" y="39.30" width="11.70" height="5.30" fill="#1890f0" stroke="#555" stroke-width="0.25"/>
<rect x="342.00" y="54.40" width="4.70" height="3.30" fill="#7a00f0" stroke="#555" stroke-width="0.25"/>
<rect x="346.70" y="52.60" width="13.10" height="5.10" fill="#ff0000" stroke="#555" stroke-width="0.25"/>
<rect x="359.80" y="52.60" width="12.70" height="5.10" fill="#80f000" stroke="#555" stroke-width="0.25"/>
<rect x="374.50" y="52.60" width="10.40" height="5.10" fill="#20e858" stroke="#555" stroke-width="0.25"/>
<rect x="342.90" y="62.80" width="4.80" height="5.10" fill="#7a00f0" stroke="#555" stroke-width="0.25"/>
<rect x="347.70" y="62.80" width="12.50" height="5.10" fill="#ff0000" stroke="#555" stroke-width="0.25"/>
<rect x="364.00" y="62.80" width="12.70" height="5.10" fill="#80f000" stroke="#555" stroke-width="0.25"/>
<rect x="376.70" y="62.80" width="6.40" height="5.10" fill="#0a34f0" stroke="#555" stroke-width="0.25"/>
<rect x="342.90" y="71.10" width="4.30" height="4.80" fill="#7a00f0" stroke="#555" stroke-width="0.25"/>
<rect x="347.20" y="71.10" width="12.60" height="4.80" fill="#ff0000" stroke="#555" stroke-width="0.25"/>
<rect x="363.60" y="71.10" width="12.80" height="4.80" fill="#80f000" stroke="#555" stroke-width="0.25"/>
<rect x="376.40" y="71.10" width="6.30" height="4.80" fill="#0a34f0" stroke="#555" stroke-width="0.25"/>
<rect x="343.30" y="80.20" width="4.40" height="5.70" fill="#7a00f0" stroke="#555" stroke-width="0.25"/>
<rect x="347.70" y="80.20" width="12.80" height="5.70" fill="#ff0000" stroke="#555" stroke-width="0.25"/>
<rect x="364.30" y="80.20" width="12.40" height="5.70" fill="#80f000" stroke="#555" stroke-width="0.25"/>
<rect x="378.00" y="80.20" width="6.60" height="5.70" fill="#0a34f0" stroke="#555" stroke-width="0.25"/>
<rect x="343.00" y="91.80" width="4.50" height="3.30" fill="#7a00f0" stroke="#555" stroke-width="0.25"/>
<rect x="347.50" y="89.70" width="12.70" height="5.40" fill="#ff0000" stroke="#555" stroke-width="0.25"/>
<rect x="364.30" y="89.70" width="12.10" height="5.40" fill="#80f000" stroke="#555" stroke-width="0.25"/>
<rect x="378.00" y="89.70" width="6.00" height="5.40" fill="#0a34f0" stroke="#555" stroke-width="0.25"/>
<rect x="342.40" y="101.30" width="4.30" height="3.30" fill="#7a00f0" stroke="#555" stroke-width="0.25"/>
<rect x="346.70" y="99.90" width="12.50" height="4.70" fill="#ff0000" stroke="#555" stroke-width="0.25"/>
<rect x="363.30" y="99.90" width="11.80" height="4.70" fill="#80f000" stroke="#555" stroke-width="0.25"/>
<rect x="376.40" y="99.90" width="6.30" height="4.70" fill="#0a34f0" stroke="#555" stroke-width="0.25"/>
<rect x="415.30" y="99.90" width="7.40" height="4.70" fill="#ff5a00" stroke="#555" stroke-width="0.25"/>
<rect x="341.40" y="108.50" width="12.40" height="5.30" fill="#80f000" stroke="#555" stroke-width="0.25"/>
<rect x="364.30" y="110.50" width="4.80" height="3.30" fill="#7a00f0" stroke="#555" stroke-width="0.25"/>
<rect x="369.10" y="108.50" width="11.70" height="5.30" fill="#ff0000" stroke="#555" stroke-width="0.25"/>
<rect x="406.20" y="108.50" width="6.60" height="5.30" fill="#ff5a00" stroke="#555" stroke-width="0.25"/>
<rect x="342.00" y="118.60" width="4.70" height="5.10" fill="#7a00f0" stroke="#555" stroke-width="0.25"/>
<rect x="346.70" y="118.60" width="12.20" height="5.10" fill="#ff0000" stroke="#555" stroke-width="0.25"/>
<rect x="363.00" y="118.60" width="11.70" height="5.10" fill="#80f000" stroke="#555" stroke-width="0.25"/>
<rect x="374.70" y="118.60" width="7.10" height="5.10" fill="#0a34f0" stroke="#555" stroke-width="0.25"/>
<rect x="415.10" y="118.60" width="7.00" height="5.10" fill="#ff5a00" stroke="#555" stroke-width="0.25"/>
<rect x="343.70" y="129.50" width="4.40" height="5.00" fill="#7a00f0" stroke="#555" stroke-width="0.25"/>
<rect x="348.10" y="129.50" width="12.10" height="5.00" fill="#ff0000" stroke="#555" stroke-width="0.25"/>
<rect x="367.10" y="129.50" width="12.40" height="5.00" fill="#80f000" stroke="#555" stroke-width="0.25"/>
<rect x="379.50" y="129.50" width="6.40" height="5.00" fill="#0a34f0" stroke="#555" stroke-width="0.25"/>
<rect x="403.30" y="129.50" width="7.00" height="5.00" fill="#ff5a00" stroke="#555" stroke-width="0.25"/>
<rect x="343.30" y="144.10" width="4.40" height="3.30" fill="#7a00f0" stroke="#555" stroke-width="0.25"/>
<rect x="347.70" y="142.30" width="12.10" height="5.10" fill="#ff0000" stroke="#555" stroke-width="0.25"/>
<rect x="359.80" y="142.30" width="12.10" height="5.10" fill="#80f000" stroke="#555" stroke-width="0.25"/>
<rect x="375.10" y="142.30" width="10.20" height="5.10" fill="#20e858" stroke="#555" stroke-width="0.25"/>
<rect x="508.30" y="142.30" width="19.40" height="5.10" fill="#00f0f0" stroke="#555" stroke-width="0.25"/>
<rect x="345.40" y="156.20" width="4.60" height="3.30" fill="#7a00f0" stroke="#555" stroke-width="0.25"/>
<rect x="350.00" y="154.10" width="12.10" height="5.40" fill="#ff0000" stroke="#555" stroke-width="0.25"/>
<rect x="362.10" y="154.10" width="11.70" height="5.40" fill="#80f000" stroke="#555" stroke-width="0.25"/>
<rect x="377.00" y="154.10" width="10.40" height="5.40" fill="#20e858" stroke="#555" stroke-width="0.25"/>
<rect x="450.70" y="154.10" width="18.70" height="5.40" fill="#c808e8" stroke="#555" stroke-width="0.25"/>
<rect x="469.40" y="154.10" width="6.40" height="5.40" fill="#dcf000" stroke="#555" stroke-width="0.25"/>
<rect x="478.10" y="154.10" width="19.70" height="5.40" fill="#00f0f0" stroke="#555" stroke-width="0.25"/>
<rect x="344.50" y="167.60" width="4.50" height="3.30" fill="#7a00f0" stroke="#555" stroke-width="0.25"/>
<rect x="349.00" y="165.80" width="12.50" height="5.10" fill="#ff0000" stroke="#555" stroke-width="0.25"/>
<rect x="361.50" y="165.80" width="11.90" height="5.10" fill="#80f000" stroke="#555" stroke-width="0.25"/>
<rect x="376.40" y="165.80" width="10.50" height="5.10" fill="#20e858" stroke="#555" stroke-width="0.25"/>
<rect x="449.60" y="165.80" width="18.50" height="5.10" fill="#c808e8" stroke="#555" stroke-width="0.25"/>
<rect x="468.10" y="165.80" width="6.80" height="5.10" fill="#dcf000" stroke="#555" stroke-width="0.25"/>
<rect x="477.30" y="165.80" width="19.50" height="5.10" fill="#00f0f0" stroke="#555" stroke-width="0.25"/>
<rect x="362.00" y="176.00" width="4.60" height="3.30" fill="#7a00f0" stroke="#555" stroke-width="0.25"/>
<rect x="366.60" y="173.90" width="11.90" height="5.40" fill="#ff0000" stroke="#555" stroke-width="0.25"/>
<rect x="378.50" y="173.90" width="12.20" height="5.40" fill="#80f000" stroke="#555" stroke-width="0.25"/>
<rect x="394.20" y="173.90" width="10.30" height="5.40" fill="#20e858" stroke="#555" stroke-width="0.25"/>
<rect x="470.10" y="173.90" width="18.80" height="5.40" fill="#c808e8" stroke="#555" stroke-width="0.25"/>
<rect x="488.90" y="173.90" width="6.00" height="5.40" fill="#dcf000" stroke="#555" stroke-width="0.25"/>
<rect x="497.80" y="173.90" width="19.60" height="5.40" fill="#00f0f0" stroke="#555" stroke-width="0.25"/>
<rect x="348.00" y="186.20" width="4.80" height="3.30" fill="#7a00f0" stroke="#555" stroke-width="0.25"/>
<rect x="352.80" y="184.10" width="12.70" height="5.40" fill="#ff0000" stroke="#555" stroke-width="0.25"/>
<rect x="371.90" y="184.10" width="6.40" height="5.40" fill="#dcf000" stroke="#555" stroke-width="0.25"/>
<rect x="449.60" y="184.10" width="20.50" height="5.40" fill="#00f0f0" stroke="#555" stroke-width="0.25"/>
<rect x="349.30" y="196.30" width="4.50" height="3.30" fill="#7a00f0" stroke="#555" stroke-width="0.25"/>
<rect x="353.80" y="194.50" width="12.80" height="5.10" fill="#ff0000" stroke="#555" stroke-width="0.25"/>
<rect x="451.90" y="194.50" width="20.10" height="5.10" fill="#f010b8" stroke="#555" stroke-width="0.25"/>
<rect x="480.50" y="194.50" width="20.80" height="5.10" fill="#00f0f0" stroke="#555" stroke-width="0.25"/>
<rect x="349.00" y="206.20" width="4.80" height="3.30" fill="#7a00f0" stroke="#555" stroke-width="0.25"/>
<rect x="353.80" y="204.20" width="12.40" height="5.30" fill="#ff0000" stroke="#555" stroke-width="0.25"/>
<rect x="425.20" y="204.20" width="20.40" height="5.30" fill="#f010b8" stroke="#555" stroke-width="0.25"/>
<rect x="452.20" y="204.20" width="20.20" height="5.30" fill="#00f0f0" stroke="#555" stroke-width="0.25"/>
<rect x="344.20" y="217.40" width="4.20" height="3.30" fill="#7a00f0" stroke="#555" stroke-width="0.25"/>
<rect x="348.40" y="215.40" width="13.10" height="5.30" fill="#ff0000" stroke="#555" stroke-width="0.25"/>
<rect x="435.40" y="215.40" width="20.30" height="5.30" fill="#f010b8" stroke="#555" stroke-width="0.25"/>
<rect x="463.60" y="215.40" width="20.70" height="5.30" fill="#00f0f0" stroke="#555" stroke-width="0.25"/>
<rect x="347.90" y="229.00" width="4.10" height="3.30" fill="#7a00f0" stroke="#555" stroke-width="0.25"/>
<rect x="352.00" y="227.60" width="12.50" height="4.70" fill="#ff0000" stroke="#555" stroke-width="0.25"/>
<rect x="364.50" y="227.60" width="6.00" height="4.70" fill="#0a34f0" stroke="#555" stroke-width="0.25"/>
<rect x="346.50" y="235.90" width="4.20" height="3.60" fill="#7a00f0" stroke="#555" stroke-width="0.25"/>
<rect x="350.70" y="235.90" width="12.40" height="3.60" fill="#ff0000" stroke="#555" stroke-width="0.25"/>
<rect x="363.10" y="235.90" width="6.20" height="3.60" fill="#0a34f0" stroke="#555" stroke-width="0.25"/>
<rect x="346.50" y="243.40" width="12.60" height="5.10" fill="#ff0000" stroke="#555" stroke-width="0.25"/>
<rect x="359.10" y="245.20" width="4.40" height="3.30" fill="#7a00f0" stroke="#555" stroke-width="0.25"/>
<rect x="344.50" y="256.10" width="4.20" height="3.30" fill="#7a00f0" stroke="#555" stroke-width="0.25"/>
<rect x="348.70" y="254.30" width="13.00" height="5.10" fill="#ff0000" stroke="#555" stroke-width="0.25"/>
<rect x="361.70" y="254.30" width="6.40" height="5.10" fill="#0a34f0" stroke="#555" stroke-width="0.25"/>
<rect x="344.90" y="267.50" width="4.40" height="3.30" fill="#7a00f0" stroke="#555" stroke-width="0.25"/>
<rect x="349.30" y="265.00" width="12.70" height="5.80" fill="#ff0000" stroke="#555" stroke-width="0.25"/>
<rect x="362.00" y="265.00" width="6.70" height="5.80" fill="#0a34f0" stroke="#555" stroke-width="0.25"/>
</g>
<line x1="348.3" y1="277.6" x2="534" y2="277.6" stroke="#a0a0a0" stroke-width="1.3"/>
<g font-family="'Liberation Sans', Arial, sans-serif" font-size="5" fill="#666" text-anchor="middle">
<text x="348.30" y="283">0</text>
<text x="380.20" y="283">100</text>
<text x="410.90" y="283">200</text>
<text x="441.60" y="283">300</text>
<text x="472.30" y="283">400</text>
<text x="503.00" y="283">500</text>
<text x="533.70" y="283">600</text>
</g>
<text x="536.6" y="276.3" font-family="'Liberation Sans', Arial, sans-serif" font-size="5.6" fill="#444">3</text><line x1="540.6" y1="271.2" x2="540" y2="273" stroke="#444" stroke-width="0.7" stroke-linecap="round"/>
<rect x="501.3" y="34.4" width="32.2" height="77" rx="1.5" fill="#fff" stroke="#555" stroke-width="0.9"/>
<g font-family="'Liberation Sans', Arial, sans-serif" font-weight="bold" font-size="4.6" fill="#1a1a1a">
<text x="503.1" y="42.6" textLength="9.2" lengthAdjust="spacingAndGlyphs">Motif</text>
<text x="514.8" y="42.6" textLength="14.5" lengthAdjust="spacingAndGlyphs">Symbol</text>
</g>
<g font-family="'Liberation Sans', Arial, sans-serif" font-size="4.7" fill="#222" stroke="#222" stroke-width="0.12">
<rect x="514.8" y="45.70" width="9.50" height="3.3" fill="#ff0000"/>
<text x="507.5" y="49.20" textLength="3.8" lengthAdjust="spacingAndGlyphs">1.</text>
<rect x="514.8" y="49.80" width="15.20" height="3.3" fill="#00f0f0"/>
<text x="507.5" y="53.30" textLength="3.8" lengthAdjust="spacingAndGlyphs">2.</text>
<rect x="514.8" y="54.60" width="8.90" height="3.3" fill="#80f000"/>
<text x="507.5" y="58.10" textLength="3.8" lengthAdjust="spacingAndGlyphs">3.</text>
<rect x="514.8" y="59.20" width="3.20" height="3.3" fill="#7a00f0"/>
<text x="507.5" y="62.70" textLength="3.8" lengthAdjust="spacingAndGlyphs">4.</text>
<rect x="514.8" y="63.60" width="12.90" height="3.3" fill="#ffb400"/>
<text x="507.5" y="67.10" textLength="3.8" lengthAdjust="spacingAndGlyphs">5.</text>
<rect x="514.8" y="68.20" width="7.80" height="3.3" fill="#20e858"/>
<text x="507.5" y="71.70" textLength="3.8" lengthAdjust="spacingAndGlyphs">6.</text>
<rect x="514.8" y="72.90" width="5.10" height="3.3" fill="#0a34f0"/>
<text x="507.5" y="76.40" textLength="3.8" lengthAdjust="spacingAndGlyphs">7.</text>
<rect x="514.8" y="77.30" width="15.00" height="3.3" fill="#f010b8"/>
<text x="507.5" y="80.80" textLength="3.8" lengthAdjust="spacingAndGlyphs">8.</text>
<rect x="514.8" y="81.90" width="5.10" height="3.3" fill="#ff5a00"/>
<text x="507.5" y="85.40" textLength="3.8" lengthAdjust="spacingAndGlyphs">9.</text>
<rect x="514.8" y="85.80" width="5.10" height="3.3" fill="#dcf000"/>
<text x="507.5" y="89.30" textLength="3.8" lengthAdjust="spacingAndGlyphs">10</text>
<rect x="514.8" y="90.90" width="10.60" height="3.3" fill="#38e818"/>
<text x="507.5" y="94.40" textLength="3.8" lengthAdjust="spacingAndGlyphs">11</text>
<rect x="514.8" y="95.10" width="4.90" height="3.3" fill="#10f0a8"/>
<text x="507.5" y="98.60" textLength="3.8" lengthAdjust="spacingAndGlyphs">12</text>
<rect x="514.8" y="99.90" width="8.90" height="3.3" fill="#1890f0"/>
<text x="507.5" y="103.40" textLength="3.8" lengthAdjust="spacingAndGlyphs">13</text>
<rect x="514.8" y="104.30" width="14.50" height="3.3" fill="#c808e8"/>
<text x="507.5" y="107.80" textLength="3.8" lengthAdjust="spacingAndGlyphs">15</text>
</g>
</g></svg>
</body></html>
